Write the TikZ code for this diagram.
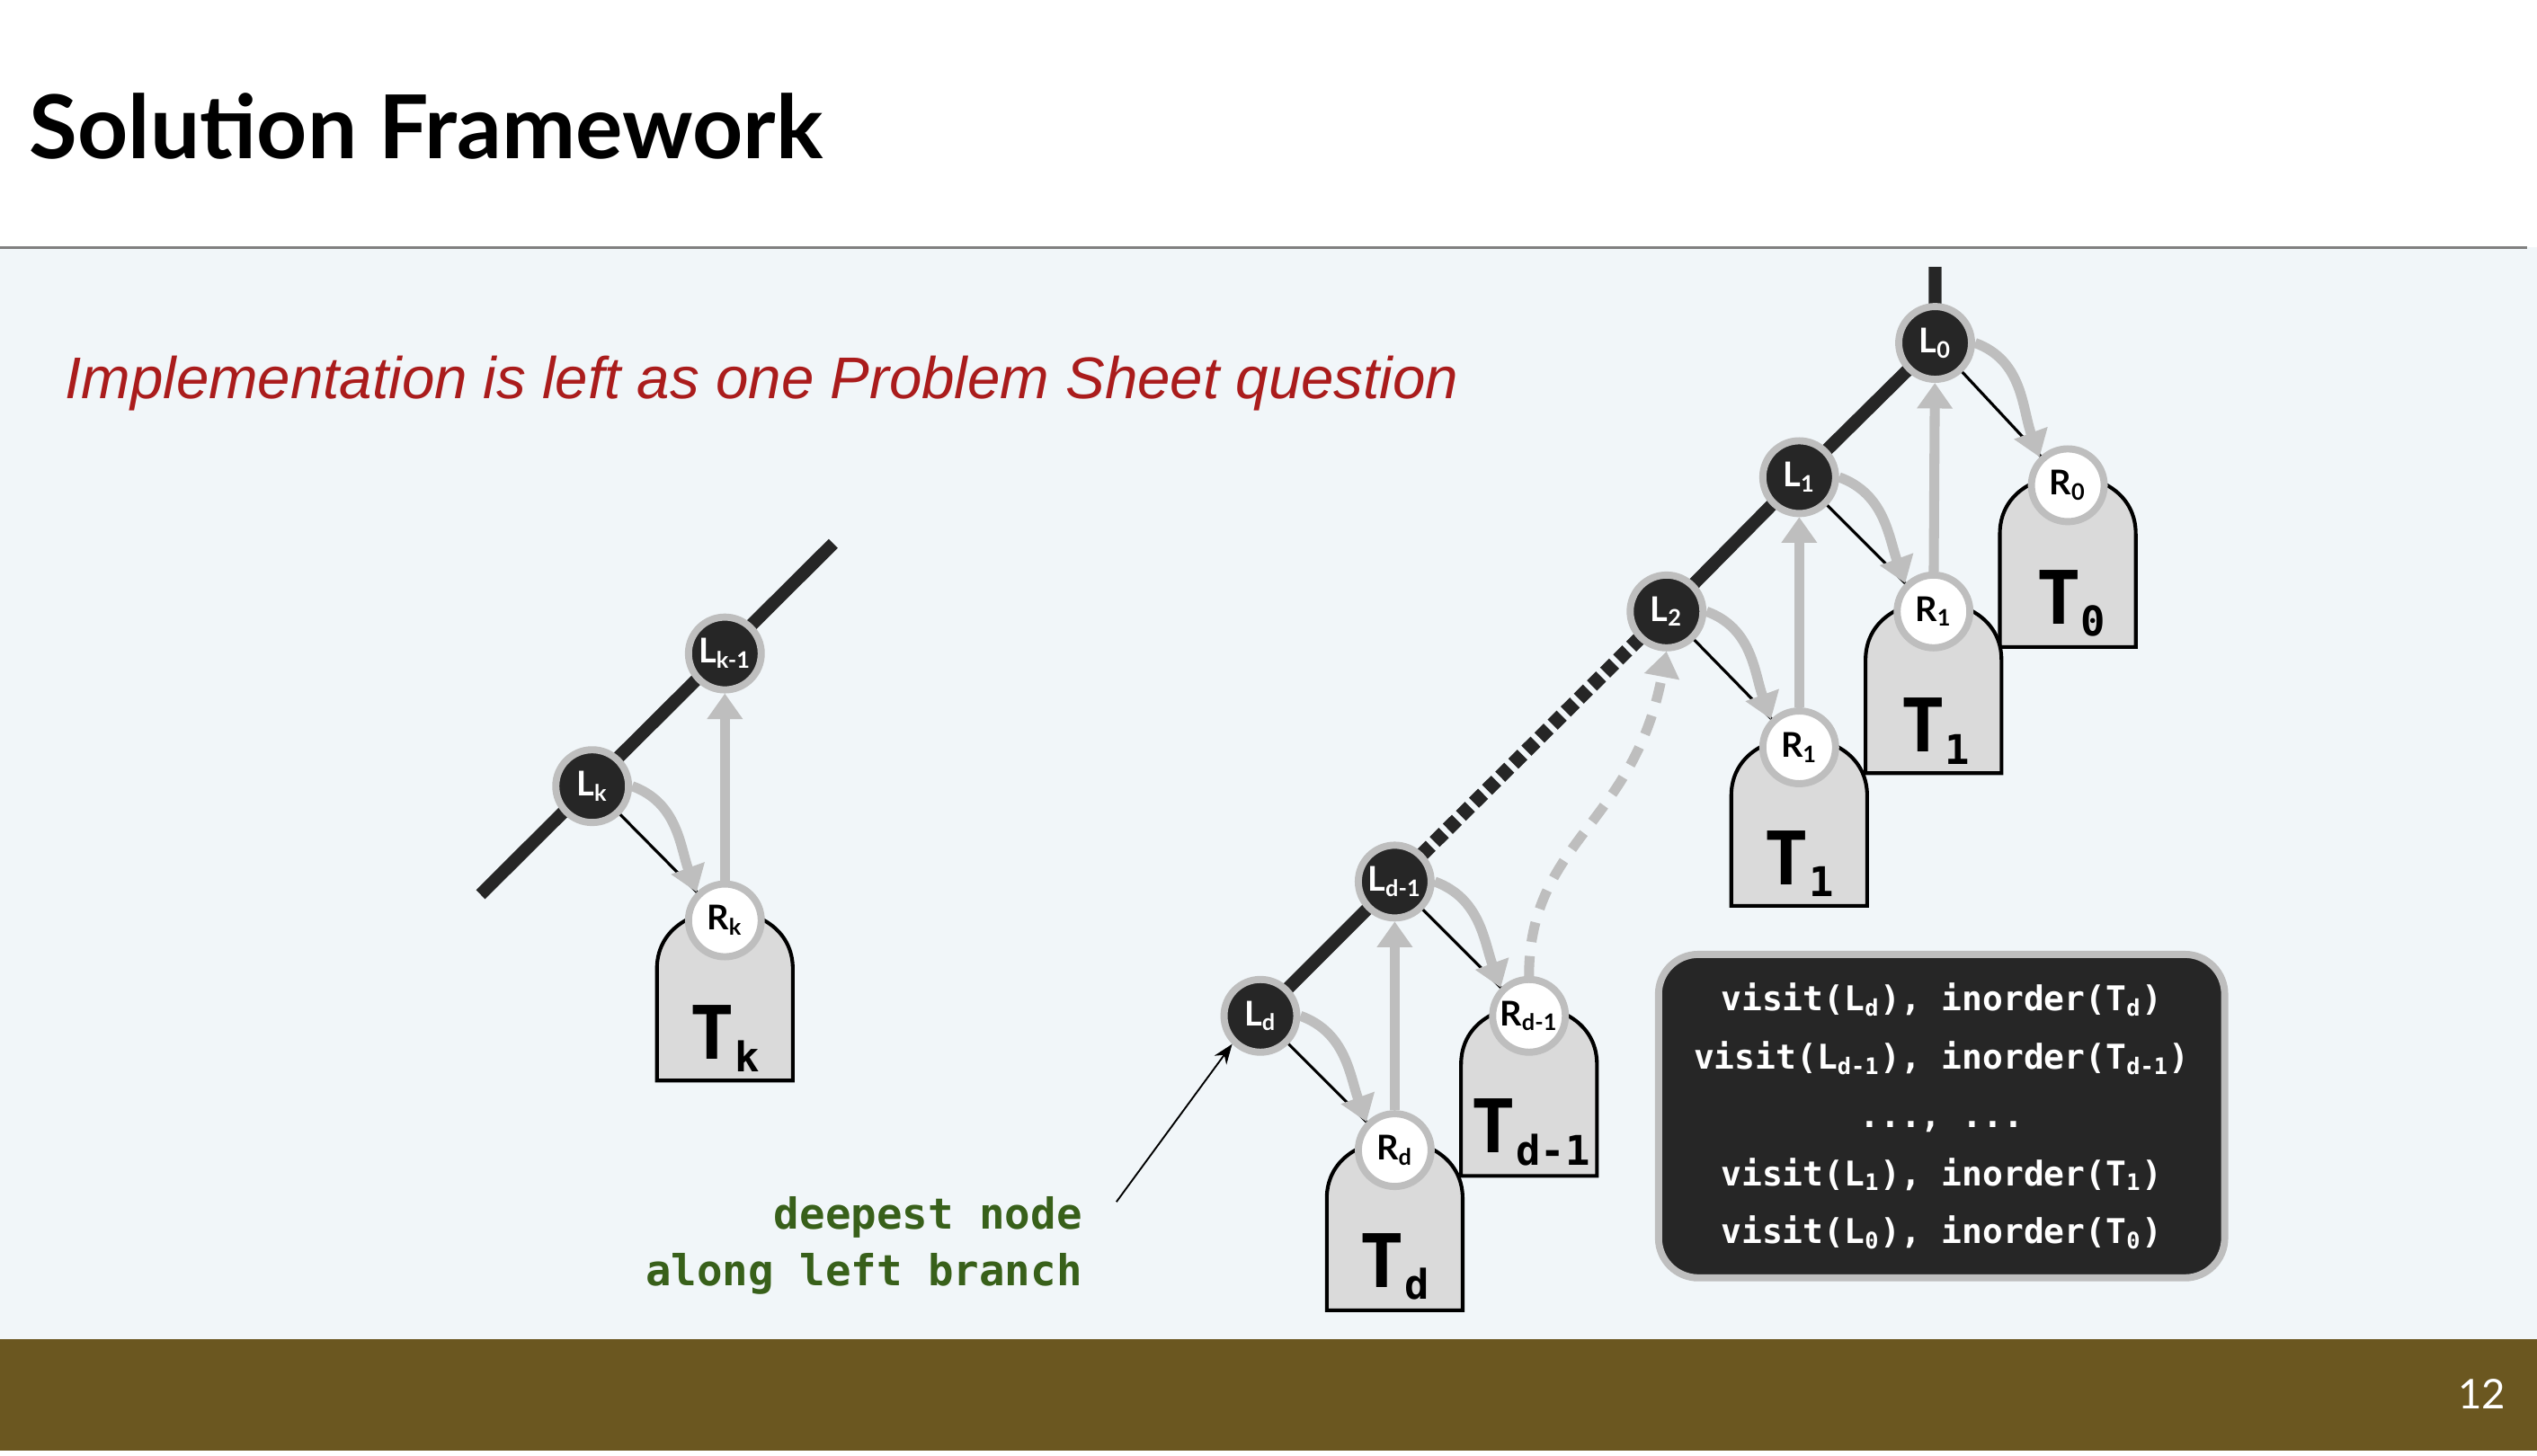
\documentclass[tikz,border=0pt]{standalone}
\usepackage{fontspec}
\setmainfont{Lato}
\setmonofont{DejaVu Sans Mono}
\newfontfamily\redfont{Liberation Sans}
\usetikzlibrary{arrows.meta}
\definecolor{bgblue}{RGB}{241,246,249}
\definecolor{olive}{RGB}{107,87,32}
\definecolor{mred}{RGB}{170,28,28}
\definecolor{mgreen}{RGB}{56,96,26}
\definecolor{ringgray}{RGB}{190,190,190}
\definecolor{treegray}{RGB}{218,218,218}
\definecolor{codebg}{RGB}{38,38,38}
\tikzset{
  lnode/.style={circle, fill=black!85, draw=ringgray, line width=2.5pt, minimum size=0.9cm, inner sep=0pt, text=white, font=\bfseries\large},
  rnode/.style={circle, fill=white, draw=ringgray, line width=2.5pt, minimum size=0.9cm, inner sep=0pt, font=\bfseries\large},
  branch/.style={line width=4.5pt, black!85},
  edge/.style={line width=1pt},
  visit/.style={line width=3.5pt, ringgray, -{Triangle[length=9pt,width=12pt]}},
  treelabel/.style={font=\ttfamily\bfseries\fontsize{26}{26}\selectfont},
}
\newcommand{\subtree}[3]{% centre x, centre y of root, bottom
  \draw[line width=1.3pt, fill=treegray] (#1-42,#3) -- (#1-42,#2+30)
    .. controls (#1-42,#2-18) and (#1+42,#2-18) .. (#1+42,#2+30) -- (#1+42,#3) -- cycle;}
\begin{document}
\begin{tikzpicture}[x=0.02cm, y=-0.02cm]
    \useasboundingbox (0,0) rectangle (1568,900);
    \fill[white] (0,0) rectangle (1568,153);
    \fill[bgblue] (0,153) rectangle (1568,828);
    \draw[gray, line width=0.8pt] (0,153) -- (1562,153);
    \fill[olive] (0,828) rectangle (1568,897);
    \node[text=white, font=\Large] (page) at (1534,862) {12};

    \node[anchor=west, font=\bfseries\fontsize{31}{31}\selectfont] (title) at (12,78) {Solution Framework};
    \node[anchor=west, text=mred, font=\redfont\itshape\fontsize{20.7}{21}\selectfont] (note) at (34,237)
        {Implementation is left as one Problem Sheet question};

    % subtrees
    \subtree{1278}{300}{400}
    \subtree{1195}{378}{478}
    \subtree{1112}{462}{560}
    \subtree{945}{628}{727}
    \subtree{862}{711}{810}
    \subtree{448}{569}{668}
    \node[treelabel] (T0) at (1280,373) {T\raisebox{-0.3ex}{\Large 0}};
    \node[treelabel] (T1a) at (1196,452) {T\raisebox{-0.3ex}{\Large 1}};
    \node[treelabel] (T1b) at (1112,534) {T\raisebox{-0.3ex}{\Large 1}};
    \node[treelabel] (Tdm) at (946,700) {T\raisebox{-0.3ex}{\Large d-1}};
    \node[treelabel] (Td) at (862,783) {T\raisebox{-0.3ex}{\Large d}};
    \node[treelabel] (Tk) at (448,642) {T\raisebox{-0.3ex}{\Large k}};

    % left branch
    \coordinate (top) at (1196,165);
    \coordinate (ktop) at (515,336);
    \coordinate (kbot) at (297,553);
    \draw[branch] (top) -- (1196,212) -- (1112,295) -- (1030,378);
    \draw[branch, dotted, line width=5pt] (1030,378) -- (862,545);
    \draw[branch] (862,545) -- (779,628);
    \draw[branch] (ktop) -- (kbot);

    \node[lnode] (L0) at (1196,212) {L\textsubscript{0}};
    \node[lnode] (L1) at (1112,295) {L\textsubscript{1}};
    \node[lnode] (L2) at (1030,378) {L\textsubscript{2}};
    \node[lnode] (Ldm) at (862,545) {L\textsubscript{d-1}};
    \node[lnode] (Ld) at (779,628) {L\textsubscript{d}};
    \node[lnode] (Lkm) at (448,404) {L\textsubscript{k-1}};
    \node[lnode] (Lk) at (366,486) {L\textsubscript{k}};
    \node[rnode] (R0) at (1278,300) {R\textsubscript{0}};
    \node[rnode] (R1a) at (1195,378) {R\textsubscript{1}};
    \node[rnode] (R1b) at (1112,462) {R\textsubscript{1}};
    \node[rnode] (Rdm) at (945,628) {R\textsubscript{d-1}};
    \node[rnode] (Rd) at (862,711) {R\textsubscript{d}};
    \node[rnode] (Rk) at (448,569) {R\textsubscript{k}};

    \foreach \a/\b in {L0/R0, L1/R1a, L2/R1b, Ldm/Rdm, Ld/Rd, Lk/Rk}
      \draw[edge] (\a) -- (\b);
    \foreach \a/\b in {L0/R0, L1/R1a, L2/R1b, Ldm/Rdm, Ld/Rd, Lk/Rk}
      \draw[visit] (\a.east) to[out=-20, in=110] (\b.north west);
    \foreach \a/\b in {R1a/L0, R1b/L1, Rd/Ldm, Rk/Lkm}
      \draw[visit] (\a) -- (\b);
    \draw[visit, dash pattern=on 7pt off 5pt] (Rdm.north) .. controls (945,520) and (1010,510) .. (L2.south);

    % code box
    \node[draw=ringgray, line width=2.5pt, fill=codebg, rounded corners=14pt, text=white,
          minimum width=7cm, minimum height=4cm, align=center,
          font=\ttfamily\bfseries\fontsize{12}{20.5}\selectfont] (code) at (1200,690)
      {visit(L\textsubscript{d}), inorder(T\textsubscript{d})\\
       visit(L\textsubscript{d-1}), inorder(T\textsubscript{d-1})\\
       ..., ...\\
       visit(L\textsubscript{1}), inorder(T\textsubscript{1})\\
       visit(L\textsubscript{0}), inorder(T\textsubscript{0})};

    % annotation
    \node[anchor=east, align=right, text=mgreen, font=\ttfamily\bfseries\fontsize{15}{20}\selectfont] (deep) at (675,770)
      {deepest node\\along left branch};
    \draw[-{Stealth[length=7pt]}, line width=0.6pt] (690,743) -- (Ld.south west);
\end{tikzpicture}
\end{document}
